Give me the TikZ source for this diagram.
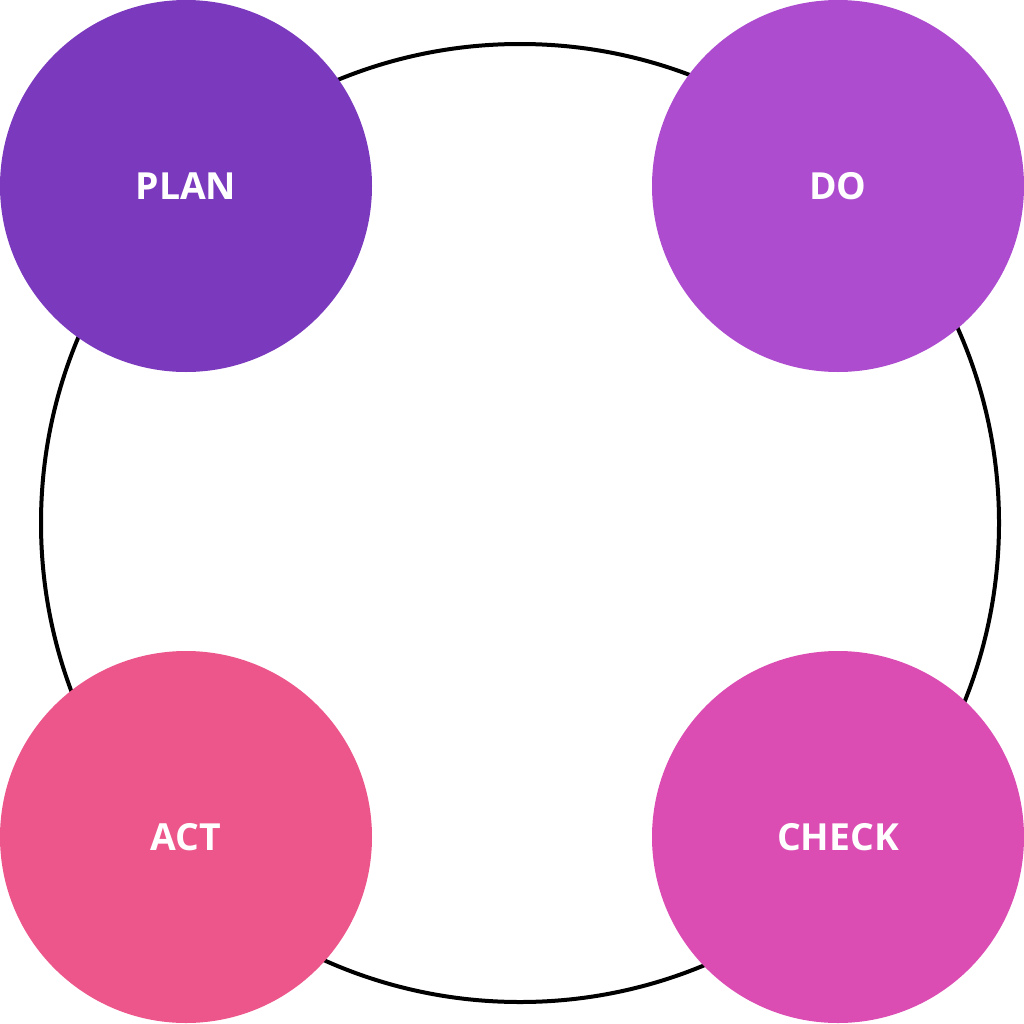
\documentclass[tikz,border=0pt]{standalone}
\usepackage{fontspec}
\setmainfont{Open Sans}
\definecolor{planc}{RGB}{123,57,190}
\definecolor{doc}{RGB}{173,76,207}
\definecolor{checkc}{RGB}{220,77,179}
\definecolor{actc}{RGB}{236,86,138}
\tikzset{every picture/.style={line width=0.75pt}}
\tikzset{stage/.style={circle,inner sep=0pt,minimum size=279pt,text=white,font=\fontsize{28}{30}\selectfont\bfseries}}
\begin{document}
\begin{tikzpicture}[x=0.75pt,y=0.75pt,yscale=-1,xscale=1]
\useasboundingbox (0,0) rectangle (1024,1024);
%Big ring
\draw [line width=3pt] (520,523) circle [radius=479];
%Stages
\node [stage,fill=planc] (plan) at (186,186) {PLAN};
\node [stage,fill=doc] (do) at (838,186) {DO};
\node [stage,fill=actc] (act) at (186,837) {ACT};
\node [stage,fill=checkc] (check) at (838,837) {CHECK};
\end{tikzpicture}
\end{document}
